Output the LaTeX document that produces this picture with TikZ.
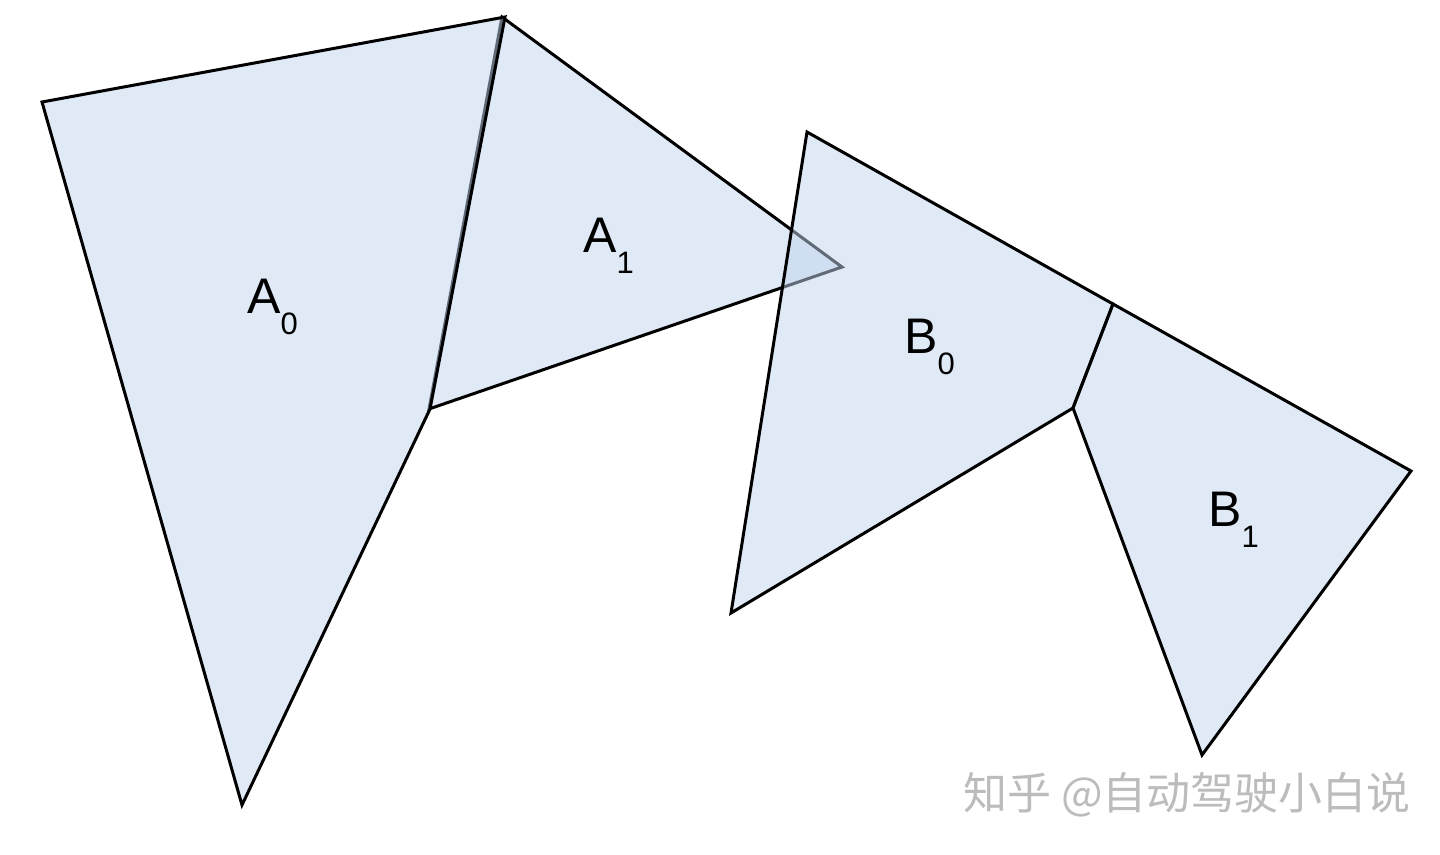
\documentclass[tikz,border=0pt]{standalone}
\usepackage{fontspec}
\setmainfont{Liberation Sans}
\newfontfamily\cjk{Noto Sans CJK SC}
\definecolor{polyfill}{RGB}{194,213,238}
\definecolor{wmark}{RGB}{188,188,188}
\tikzset{
  poly/.style={draw=black, line width=3pt, line join=miter, fill=polyfill, fill opacity=0.5, draw opacity=1},
  lbl/.style={anchor=base west, inner sep=0pt, font=\fontsize{50}{50}\selectfont, text=black},
}
\newcommand{\subdig}[1]{\raisebox{-21pt}{\fontsize{31}{31}\selectfont #1}}
\begin{document}
\begin{tikzpicture}[x=1pt,y=-1pt]
\useasboundingbox (0,0) rectangle (1440,854);
\fill[white] (0,0) rectangle (1440,854);
% A1 (under A0)
\draw[poly] (502,17) -- (842,267) -- (429,409) -- cycle;
% A0
\draw[poly] (42,102) -- (505,17) -- (430,409) -- (242,805) -- cycle;
% B0
\draw[poly] (807,132) -- (1113,304) -- (1073,408) -- (731,613) -- cycle;
% B1
\draw[poly] (1113,304) -- (1411,471) -- (1202,755) -- (1073,408) -- cycle;
% labels
\node[lbl] (la0) at (247,313) {A\subdig{0}};
\node[lbl] (la1) at (583,252) {A\subdig{1}};
\node[lbl] (lb0) at (904,353) {B\subdig{0}};
\node[lbl] (lb1) at (1208,526) {B\subdig{1}};
% watermark
\node[anchor=west, inner sep=0pt, text=wmark, font=\cjk\fontsize{44}{44}\selectfont] (wm) at (963,795) {知乎 @自动驾驶小白说};
\end{tikzpicture}
\end{document}
